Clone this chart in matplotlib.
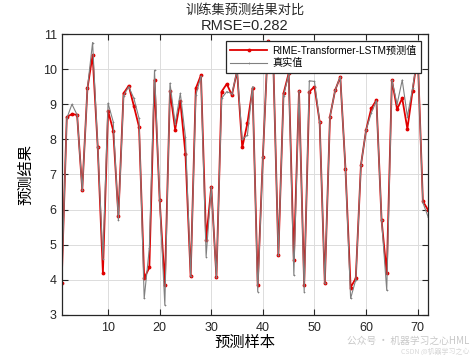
import numpy as np
import matplotlib
matplotlib.use("Agg")
import matplotlib.pyplot as plt

plt.rcParams['font.family'] = ['Liberation Sans', 'Noto Sans CJK SC', 'DejaVu Sans']

# values (samples 1..72)
pred = [3.91, 8.64, 8.72, 8.70, 6.56, 9.45, 10.40, 7.77, 4.20, 8.81,
        8.25, 5.82, 9.31, 9.53, 8.95, 8.36, 4.04, 4.35, 9.69, 6.27,
        3.85, 9.38, 8.28, 9.09, 7.58, 4.10, 9.45, 9.83, 5.13, 6.65,
        4.07, 9.36, 9.58, 9.26, 9.95, 7.77, 8.46, 9.45, 3.85, 7.50,
        10.80, 10.30, 4.70, 9.31, 9.88, 4.56, 9.38, 3.85, 9.36, 9.50,
        8.50, 3.90, 8.65, 9.40, 9.78, 7.17, 3.78, 4.04, 7.27, 8.27,
        8.88, 9.12, 5.70, 4.18, 9.69, 8.86, 9.17, 8.30, 9.38, 10.40,
        6.24, 5.99]
true = [3.88, 8.60, 9.00, 8.70, 6.55, 9.45, 10.76, 7.77, 4.60, 9.03,
        8.50, 5.70, 9.25, 9.50, 9.17, 8.60, 3.47, 4.90, 9.97, 6.27,
        3.28, 9.60, 8.45, 9.31, 8.06, 4.10, 9.26, 9.80, 4.66, 6.65,
        4.07, 9.17, 9.36, 9.30, 9.95, 8.00, 8.12, 9.50, 3.66, 7.50,
        10.80, 10.30, 4.70, 9.25, 9.85, 4.13, 9.38, 3.66, 9.67, 9.65,
        8.50, 3.90, 8.65, 9.40, 9.78, 7.17, 3.47, 4.00, 7.27, 8.27,
        8.75, 9.10, 5.70, 3.70, 9.69, 9.00, 9.69, 8.65, 9.45, 10.40,
        6.20, 5.80]
rmse = 0.282

x = np.arange(1, len(pred) + 1)

fig = plt.figure(figsize=(4.74, 3.55), dpi=100)
ax = fig.add_axes([0.13, 0.113, 0.773, 0.791])

ax.plot(x, pred, '-', color='#e00000', lw=1.3, marker='.', markersize=3.5,
        label='RIME-Transformer-LSTM预测值')
ax.plot(x, true, '-', color='#808080', lw=0.8, marker='+', markersize=2,
        markeredgewidth=0.5, label='真实值')

ax.set_xlim(1, 72)
ax.set_ylim(3, 11)
ax.set_xticks(range(10, 71, 10))
ax.set_yticks(range(3, 12))
ax.grid(True, color='#dcdcdc', lw=0.7)
ax.tick_params(direction='in', top=True, right=True, labelsize=9, length=4,
               width=0.8, colors='#262626')
ax.tick_params(axis='x', pad=5)
for s in ax.spines.values():
    s.set_linewidth(0.9)
    s.set_color('#262626')

ax.set_xlabel('预测样本', family=['Noto Sans CJK SC'], fontsize=11, labelpad=0)
ax.set_ylabel('预测结果', family=['Noto Sans CJK SC'], fontsize=11, labelpad=6)

# two-line title: chinese line and RMSE line
ax.text(0.5, 1.085, '训练集预测结果对比', transform=ax.transAxes, ha='center',
        va='center', fontsize=9.5, color='#262626', family=['Noto Sans CJK SC'])
ax.text(0.5, 1.03, 'RMSE=' + str(rmse), transform=ax.transAxes, ha='center',
        va='center', fontsize=10.5, color='#262626')

leg = ax.legend(loc='upper right', fontsize=7.3, fancybox=False, framealpha=1,
                edgecolor='#262626', borderpad=0.45, handlelength=3.6,
                labelspacing=0.25, borderaxespad=0.7, handletextpad=0.5)
leg.get_frame().set_linewidth(0.9)

# watermark
fig.text(0.99, 0.03, '公众号 · 机器学习之心HML', ha='right', va='baseline',
         fontsize=7, color='#c8c8c8', family=['Noto Sans CJK SC'])
fig.text(0.99, 0.004, 'CSDN @机器学习之心', ha='right', va='baseline',
         fontsize=5, color='#d8d8d8', family=['Noto Sans CJK SC'])

fig.savefig('out.png', dpi=100)
